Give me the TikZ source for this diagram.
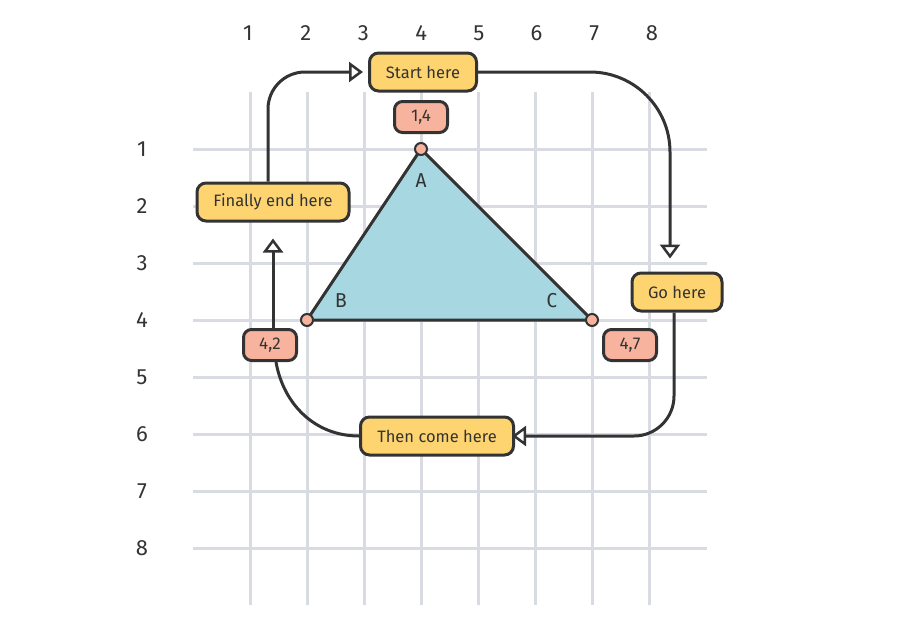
\documentclass[tikz,border=0pt]{standalone}
\usepackage{fontspec}
\setmainfont{Fira Sans}[Numbers=Lining]
\setmonofont{DejaVu Sans Mono}
\usetikzlibrary{arrows.meta}

\definecolor{ink}{HTML}{333333}
\definecolor{stepfill}{HTML}{FED470}
\definecolor{coordfill}{HTML}{F7B39E}
\definecolor{trifill}{HTML}{A7D8E1}
\definecolor{gridgray}{HTML}{D9DBE3}

\tikzset{
  gridline/.style={draw=gridgray, line width=3pt},
  axislabel/.style={text=ink, font=\fontsize{22}{26}\selectfont},
  stepbox/.style={draw=ink, line width=3pt, rounded corners=9pt, fill=stepfill,
    text=ink, font=\fontsize{16.5}{19}\selectfont, minimum height=38pt},
  coordbox/.style={draw=ink, line width=3pt, rounded corners=8pt, fill=coordfill,
    text=ink, font=\fontsize{17}{20}\selectfont, minimum height=31pt, minimum width=53pt},
  vertexdot/.style={circle, draw=ink, line width=2pt, fill=coordfill, minimum size=12pt, inner sep=0pt},
  vertexlabel/.style={text=ink, font=\ttfamily\fontsize{19}{21}\selectfont},
  flow/.style={draw=ink, line width=3pt,
    -{Triangle[open, fill=white, length=14pt, width=20pt, line width=2.5pt]}},
  link/.style={draw=ink, line width=3pt},
}

\begin{document}
\begin{tikzpicture}[x=1pt, y=-1pt]
        \useasboundingbox (0,0) rectangle (901,632);

        % Grid and axis numbers
        \foreach \i in {1,...,8}
           {
                \draw[gridline] ({250+57*(\i-1)},92) -- ({250+57*(\i-1)},605);
                \draw[gridline] (193,{149+57*(\i-1)}) -- (707,{149+57*(\i-1)});
                \node[axislabel] (col\i) at ({248+57.7*(\i-1)},33) {\i};
                \node[axislabel] (row\i) at (142,{149+57*(\i-1)}) {\i};
           }

        % Triangle
        \coordinate (A) at (421,149);
        \coordinate (B) at (307,320);
        \coordinate (C) at (592,320);
        \filldraw[fill=trifill, draw=ink, line width=3pt, line join=round] (A) -- (B) -- (C) -- cycle;
        \node[vertexdot] (dotA) at (A) {};
        \node[vertexdot] (dotB) at (B) {};
        \node[vertexdot] (dotC) at (C) {};
        \node[vertexlabel] (labA) at (421,181) {A};
        \node[vertexlabel] (labB) at (341,301) {B};
        \node[vertexlabel] (labC) at (552,301) {C};

        % Steps and coordinates
        \node[stepbox, minimum width=107pt] (start) at (423,72) {Start here};
        \node[coordbox] (pA) at (421,117) {1,4};
        \node[stepbox, minimum width=152pt] (final) at (273,202) {Finally end here};
        \node[stepbox, minimum width=90pt] (go) at (677,292) {Go here};
        \node[coordbox] (pB) at (270,345) {4,2};
        \node[coordbox] (pC) at (630,345) {4,7};
        \node[stepbox, minimum width=153pt] (then) at (437,436) {Then come here};

        % Connectors
        \draw[flow, rounded corners=37pt, shorten >=5pt] ([xshift=-5pt]final.north) |- (start.west);
        \draw[flow, rounded corners=80pt, shorten >=13pt] (start.east) -| ([xshift=-7pt]go.north);
        \draw[flow, rounded corners=40pt, shorten >=-3pt] ([xshift=-3pt]go.south) |- (then.east);
        \draw[link] (then.west) to[out=180, in=-80] ([xshift=6pt]pB.south);
        \draw[flow, shorten >=16pt] (pB.north -| final.south) -- (final.south);
\end{tikzpicture}
\end{document}
